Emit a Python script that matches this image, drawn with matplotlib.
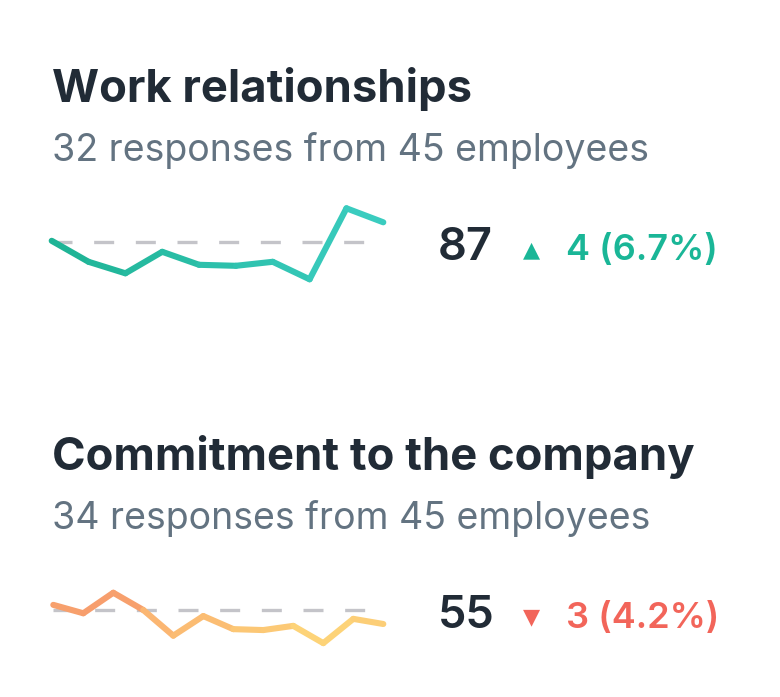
"""
Engagement survey cards: two sparklines with score and change.
"""

import numpy as np
import matplotlib
matplotlib.use("Agg")
import matplotlib.pyplot as plt
from matplotlib.collections import LineCollection
from matplotlib.colors import LinearSegmentedColormap


# ---------------------------------------------------------------------
# Data
# ---------------------------------------------------------------------

TITLES = ["Work relationships", "Commitment to the company"]
SUBTITLES = ["32 responses from 45 employees", "34 responses from 45 employees"]

WORK_SCORES = [83.3, 79.1, 76.8, 81.1, 78.5, 78.3, 79.1, 75.6, 89.8, 87.0]
COMMIT_SCORES = [59.1, 57.3, 61.7, 58.0, 52.5, 56.7, 53.9, 53.7, 54.6, 50.9, 56.1, 55.0]

CURRENT = [87, 55]
PREVIOUS = [83, 58]
CHANGE_LABELS = ["4 (6.7%)", "3 (4.2%)"]


# ---------------------------------------------------------------------
# Styling
# ---------------------------------------------------------------------

W, H = 780, 697
DARK = "#212b36"
GREY = "#637381"
DASH = "#c4c4c9"
UP = "#1ab697"
DOWN = "#f2655a"

TEAL = LinearSegmentedColormap.from_list("teal", ["#1db393", "#3ccdc2"])
WARM = LinearSegmentedColormap.from_list("warm", ["#f48f6a", "#fbb872", "#fee47c"])

plt.rcParams["font.family"] = ["Inter", "DejaVu Sans"]
plt.rcParams["lines.scale_dashes"] = False


def fx(x):
    return x / W


def fy(y):
    return 1 - y / H


def sparkline(fig, values, baseline, box, px_per_unit, base_px, cmap, mode):
    left, right, top, bottom = box
    ax = fig.add_axes([fx(left), fy(bottom), fx(right - left), (bottom - top) / H])
    ax.set_xlim(0, len(values) - 1)
    ax.set_ylim(baseline - (bottom - base_px) / px_per_unit,
                baseline + (base_px - top) / px_per_unit)
    ax.axis("off")

    x = np.arange(len(values))
    y = np.asarray(values, dtype=float)

    ax.plot([0, len(values) - 1], [baseline, baseline], color=DASH, lw=2.4,
            dashes=(14.4, 15.6), solid_capstyle="butt", dash_capstyle="butt",
            zorder=1)

    pts = np.column_stack([x, y])
    segs = np.stack([pts[:-1], pts[1:]], axis=1)
    mid_x = (x[:-1] + x[1:]) / 2 / (len(values) - 1)
    mid_y = (y[:-1] + y[1:]) / 2
    lo, hi = ax.get_ylim()
    yn = 1 - (mid_y - lo) / (hi - lo)
    if mode == "x":
        t = mid_x
    else:
        t = 0.45 * mid_x + 0.55 * (yn - 0.2) / 0.6
    t = np.clip(t, 0, 1)

    lc = LineCollection(segs, colors=cmap(t), linewidths=4.4,
                        capstyle="round", joinstyle="round", zorder=2)
    lc.set_clip_on(False)
    ax.add_collection(lc)
    return ax


def card(fig, i, top, values, box, px_per_unit, base_px, cmap, mode):
    fig.text(fx(52), fy(top + 102), TITLES[i], fontsize=32.7, fontweight="bold",
             color=DARK, va="baseline", ha="left")
    fig.text(fx(52), fy(top + 161), SUBTITLES[i], fontsize=27,
             color=GREY, va="baseline", ha="left")

    sparkline(fig, values, PREVIOUS[i], box, px_per_unit, base_px, cmap, mode)

    value_base = base_px + 18
    fig.text(fx(438), fy(value_base), str(CURRENT[i]), fontsize=32.5,
             fontweight="semibold", color=DARK, va="baseline", ha="left")

    up = CURRENT[i] >= PREVIOUS[i]
    col = UP if up else DOWN
    fig.text(fx(531.5), fy(value_base - 10.5), "\u25B2" if up else "\u25BC",
             fontsize=16, color=col, va="center", ha="center",
             family="DejaVu Sans")
    fig.text(fx(566), fy(value_base), CHANGE_LABELS[i], fontsize=26,
             fontweight="semibold", color=col, va="baseline", ha="left")


# ---------------------------------------------------------------------
# Figure
# ---------------------------------------------------------------------

fig = plt.figure(figsize=(W / 100, H / 100), dpi=100)
fig.patch.set_facecolor("white")

card(fig, 0, 0, WORK_SCORES, (51.7, 383.3, 190, 295), 5.0, 242.3, TEAL, "x")
card(fig, 1, 368, COMMIT_SCORES, (53.3, 383.3, 575, 660), 14 / 3, 610, WARM, "xy")

fig.savefig("out.png", dpi=100, facecolor="white")
